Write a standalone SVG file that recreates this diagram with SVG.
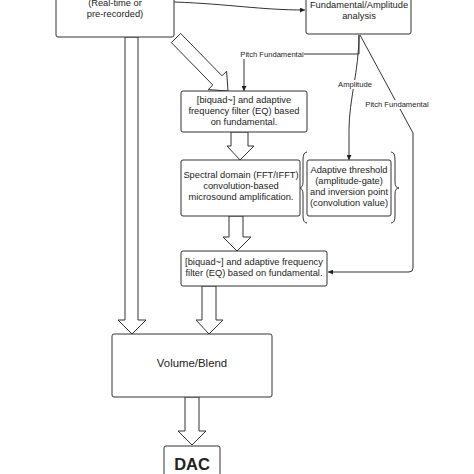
<svg xmlns="http://www.w3.org/2000/svg" width="474" height="474" viewBox="0 0 474 474">
<defs>
<style>
.box{fill:#fff;stroke:#333;stroke-width:1}
.blk{fill:#fff;stroke:#333;stroke-width:1;stroke-linejoin:miter}
.t{font-family:"Liberation Sans",Arial,sans-serif;font-size:9.3px;fill:#222;text-anchor:middle}
.lbl{font-family:"Liberation Sans",Arial,sans-serif;font-size:7.6px;fill:#222;text-anchor:middle}
.ln{fill:none;stroke:#333;stroke-width:1}
</style>
<marker id="ah" viewBox="0 0 10 10" refX="10" refY="5" markerWidth="5" markerHeight="5" orient="auto" markerUnits="userSpaceOnUse">
<path d="M0,0 L10,5 L0,10 z" fill="#222"/>
</marker>
</defs>
<rect width="474" height="474" fill="#fff"/>
<g id="connectors">
<polygon class="blk" points="125,37 138,37 138,320 146,320 132,334 118,320 125,320"/>
<polygon class="blk" points="180.6,33.4 222,75.8 226.6,71.2 228,91 208.2,89.6 212.8,85 171.4,42.6"/>
<polygon class="blk" points="231,132 248,132 248,146 254,146 240,160 227,146 231,146"/>
<polygon class="blk" points="229,216 243,216 243,237 251,237 237,251 223,237 229,237"/>
<polygon class="blk" points="202,286 216,286 216,320 223,320 209,334 196,320 202,320"/>
<polygon class="blk" points="185,397 199,397 199,431 206,431 192,445 178,431 185,431"/>
<path class="ln" d="M174,2 C230,4 260,10 305,10" marker-end="url(#ah)"/>
<path class="ln" d="M359,35 L359,54 L244,54 L244,91" marker-end="url(#ah)"/>
<path class="ln" d="M359,35 C359,70 349,100 349,130 L349,160" marker-end="url(#ah)"/>
<path class="ln" d="M360,35 L413,133 L413,268 Q413,272 409,272 L328,272" marker-end="url(#ah)"/>
<path class="ln" d="M307,152 Q303,152 303,160 L303,182 Q303,188 299,188 Q303,188 303,194 L303,216 Q303,223 307,223"/>
<path class="ln" d="M391,152 Q395,152 395,160 L395,182 Q395,188 399,188 Q395,188 395,194 L395,216 Q395,223 391,223"/>
<rect x="240" y="50" width="64" height="9" fill="#fff"/>
<text class="lbl" x="272" y="56.7">Pitch Fundamental</text>
<rect x="337" y="80" width="36" height="9" fill="#fff"/>
<text class="lbl" x="355" y="86.7">Amplitude</text>
<rect x="365" y="100" width="64" height="9" fill="#fff"/>
<text class="lbl" x="397" y="106.7">Pitch Fundamental</text>
</g>
<g id="source">
<rect class="box" x="56" y="-20" width="118" height="57" rx="2"/>
<text class="t" x="115" y="6">(Real-time or</text>
<text class="t" x="115" y="17">pre-recorded)</text>
</g>
<g id="analysis">
<rect class="box" x="306" y="-20" width="105" height="54" rx="2"/>
<text class="t" x="359" y="8">Fundamental/Amplitude</text>
<text class="t" x="359" y="18.5">analysis</text>
</g>
<g id="filter1">
<rect class="box" x="181" y="91" width="126" height="41" rx="2"/>
<text class="t" x="244" y="102.5">[biquad~] and adaptive</text>
<text class="t" x="244" y="113.5">frequency filter (EQ) based</text>
<text class="t" x="244" y="124.5">on fundamental.</text>
</g>
<g id="spectral">
<rect class="box" x="181" y="160" width="119" height="56" rx="2"/>
<text class="t" x="241" y="178">Spectral domain (FFT/IFFT)</text>
<text class="t" x="241" y="189">convolution-based</text>
<text class="t" x="241" y="200">microsound amplification.</text>
</g>
<g id="threshold">
<rect class="box" x="307" y="160" width="84" height="56" rx="2"/>
<text class="t" x="349" y="173">Adaptive threshold</text>
<text class="t" x="349" y="184">(amplitude-gate)</text>
<text class="t" x="349" y="195">and inversion point</text>
<text class="t" x="349" y="206">(convolution value)</text>
</g>
<g id="filter2">
<rect class="box" x="181" y="251" width="146" height="35" rx="2"/>
<text class="t" x="254" y="265">[biquad~] and adaptive frequency</text>
<text class="t" x="254" y="276">filter (EQ) based on fundamental.</text>
</g>
<g id="volume">
<rect class="box" x="112" y="334" width="160" height="63" rx="2"/>
<text class="t" x="192" y="367" style="font-size:11.4px">Volume/Blend</text>
</g>
<g id="dac">
<rect class="box" x="164" y="446" width="56" height="44" rx="2"/>
<text class="t" x="192" y="470" style="font-size:16.5px;font-weight:bold">DAC</text>
</g>
</svg>
